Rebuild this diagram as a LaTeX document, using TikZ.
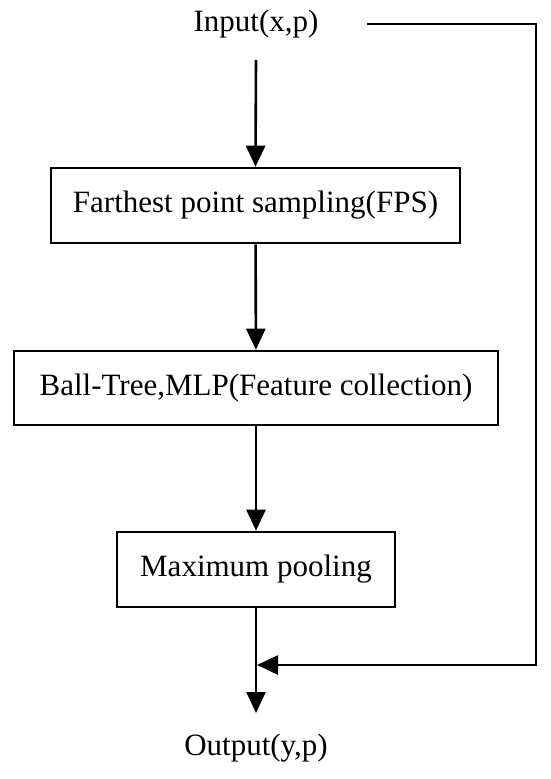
\documentclass[tikz,border=0pt]{standalone}
\usepackage{fontspec}
\setmainfont{Liberation Serif}
\usetikzlibrary{arrows.meta}
\tikzset{
	stage/.style={draw=black, line width=2.6pt, inner sep=0pt, minimum height=75pt, font=\fontsize{31}{37}\selectfont},
	lbl/.style={inner sep=0pt, font=\fontsize{31}{37}\selectfont},
	arr/.style={line width=2.6pt, -{Triangle[length=21pt,width=19pt]}},
	ln/.style={line width=2.6pt}
}
\begin{document}
\begin{tikzpicture}[x=1pt,y=-1pt]
		\useasboundingbox (0,0) rectangle (550,779);
		\node[lbl] (in) at (256,24) {Input(x,p)};
		\node[stage, minimum width=409pt] (fps) at (255.5,205.5) {Farthest point sampling(FPS)};
		\node[stage, minimum width=484pt, minimum height=74pt] (ball) at (256,388) {Ball-Tree,MLP(Feature collection)};
		\node[stage, minimum width=278pt] (pool) at (256,569.5) {Maximum pooling};
		\node[lbl] (out) at (256,748) {Output(y,p)};
		\coordinate (top) at (256,60);
		\coordinate (bot) at (256,713);
		\coordinate (fbstart) at (367,24);
		\coordinate (fbturn) at (536,24);
		\coordinate (join) at (257,665);
		\draw[arr] (top) -- (fps.north);
		\draw[arr] (fps) -- (ball);
		\draw[arr] (ball) -- (pool);
		\draw[arr] (pool.south) -- (bot);
		\draw[arr] (fbstart) -- (fbturn) |- (join);
	\end{tikzpicture}
\end{document}
